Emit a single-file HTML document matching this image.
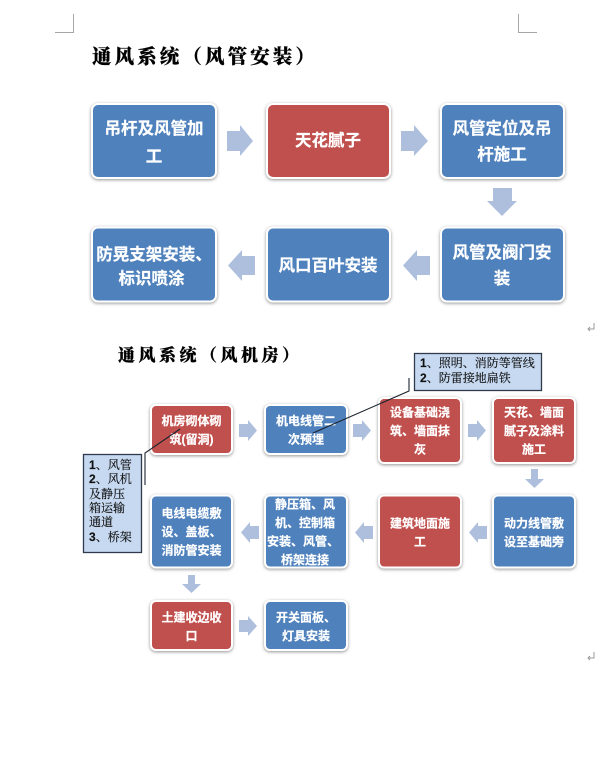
<!DOCTYPE html>
<html lang="zh">
<head>
<meta charset="utf-8">
<title>通风系统</title>
<style>
html,body{margin:0;padding:0;background:#fff;width:600px;height:764px;overflow:hidden}
svg{display:block}
.b{stroke:#fff;stroke-width:2;filter:drop-shadow(0 1px 1.5px rgba(60,60,60,.55))}
.bl{fill:#4f81bd}.rd{fill:#c0504d}
.a{fill:#adbfdc;filter:blur(.35px)}
.t{font-family:"Liberation Sans","Noto Sans CJK SC",sans-serif;font-weight:700;fill:#fff;stroke:#fff;stroke-width:.2px;text-anchor:middle;filter:blur(.35px)}
.l{font-size:16.5px}.s{font-size:12px}
.h{font-family:"Liberation Serif","Noto Serif CJK SC",serif;font-weight:900;fill:#000;stroke:#000;stroke-width:.25px}
.c{font-family:"Liberation Serif","Noto Serif CJK SC",serif;font-size:12px;fill:#111;stroke:#111;stroke-width:.15px;filter:blur(.2px)}
</style>
</head>
<body>
<svg width="600" height="764" viewBox="0 0 600 764" xmlns="http://www.w3.org/2000/svg">
<path d="M55 32.5H73.5V14M518.5 14V32.5H537" fill="none" stroke="#a6a6a6" stroke-width="1"/>
<text class="h" x="92" y="63" font-size="19.500" letter-spacing="3.100">通风系统（风管安装）</text>
<text class="h" x="118" y="361" font-size="17" letter-spacing="3.500">通风系统（风机房）</text>

<rect class="b bl" x="92" y="104" width="124" height="74" rx="6"/>
<rect class="b rd" x="267" y="104" width="123" height="74" rx="6"/>
<rect class="b bl" x="441" y="104" width="123" height="74" rx="6"/>
<rect class="b bl" x="92" y="227.500" width="124" height="74" rx="6"/>
<rect class="b bl" x="267" y="227.500" width="123" height="74" rx="6"/>
<rect class="b bl" x="441" y="227.500" width="123" height="74" rx="6"/>

<g class="a">
<path d="M227 131H240V125L253 141 240 156V151H227Z"/>
<path d="M401 131H414V125L428 141 414 156V151H401Z"/>
<path d="M493 188H512V201H517L502 216 487 201H493Z"/>
<path d="M255 256H242V250L228 265.500 242 281V275H255Z"/>
<path d="M430 256H417V250L403 265.500 417 281V275H430Z"/>
</g>

<g class="t l">
<text x="154" y="134">吊杆及风管加</text><text x="154" y="162">工</text>
<text x="328" y="146">天花腻子</text>
<text x="502" y="134">风管定位及吊</text><text x="502" y="160">杆施工</text>
<text x="154" y="260">防晃支架安装、</text><text x="151.500" y="284">标识喷涂</text>
<text x="328" y="271">风口百叶安装</text>
<text x="502" y="258">风管及阀门安</text><text x="502" y="284">装</text>
</g>

<rect class="b rd" x="151" y="405" width="81" height="49" rx="5"/>
<rect class="b bl" x="265" y="405" width="82" height="49" rx="5"/>
<rect class="b rd" x="379" y="398" width="82" height="65" rx="5"/>
<rect class="b rd" x="493" y="398" width="82" height="65" rx="5"/>
<rect class="b bl" x="151" y="495.500" width="81" height="72" rx="5"/>
<rect class="b bl" x="265" y="495.500" width="82" height="72" rx="5"/>
<rect class="b rd" x="379" y="495.500" width="82" height="72" rx="5"/>
<rect class="b bl" x="493" y="495.500" width="82" height="72" rx="5"/>
<rect class="b rd" x="151" y="601" width="81" height="49" rx="5"/>
<rect class="b bl" x="265" y="601" width="82" height="49" rx="5"/>

<g class="a">
<path d="M239 424H248V420L257 430.500 248 441V437H239Z"/>
<path d="M353 424H362V420L371 430.500 362 441V437H353Z"/>
<path d="M468 424H477V420L486 430.500 477 441V437H468Z"/>
<path d="M531 469H538V479H544L534.500 488 525 479H531Z"/>
<path d="M487 526H478V522L469 532.500 478 543V539H487Z"/>
<path d="M373 526H364V522L355 532.500 364 543V539H373Z"/>
<path d="M259 526H250V522L241 532.500 250 543V539H259Z"/>
<path d="M188 575H195V584H201L191.500 593 182 584H188Z"/>
<path d="M239 620H248V616L257 626 248 636V632H239Z"/>
</g>

<g class="t s">
<text x="191.500" y="425">机房砌体砌</text><text x="191.500" y="443.500">筑(留洞)</text>
<text x="306" y="425">机电线管二</text><text x="306" y="443.500">次预埋</text>
<text x="420" y="416.500">设备基础浇</text><text x="420" y="435">筑、墙面抹</text><text x="420" y="453.500">灰</text>
<text x="534" y="416.500">天花、墙面</text><text x="534" y="435">腻子及涂料</text><text x="534" y="453.500">施工</text>
<text x="191.500" y="517.500">电线电缆敷</text><text x="191.500" y="536">设、盖板、</text><text x="191.500" y="554.500">消防管安装</text>
<text x="305" y="508.500">静压箱、风</text><text x="305" y="527">机、控制箱</text><text x="303" y="545.500">安装、风管、</text><text x="305" y="564">桥架连接</text>
<text x="420" y="527.500">建筑地面施</text><text x="420" y="546">工</text>
<text x="534" y="527.500">动力线管敷</text><text x="534" y="546">设至基础旁</text>
<text x="191.500" y="621.500">土建收边收</text><text x="191.500" y="640">口</text>
<text x="306" y="621.500">开关面板、</text><text x="306" y="640">灯具安装</text>
</g>

<rect x="83.500" y="454.500" width="58" height="98" fill="#c6d9f1" stroke="#2f3b4c" stroke-width="1.300"/>
<rect x="414.500" y="353.500" width="127" height="37" fill="#c6d9f1" stroke="#2f3b4c" stroke-width="1.300"/>
<path d="M145 485V453L180 429" fill="none" stroke="#1c2430" stroke-width="1.100"/>
<path d="M409 378V391L313 433" fill="none" stroke="#1c2430" stroke-width="1.100"/>

<g class="c">
<text x="89" y="469"><tspan font-family="Liberation Sans" font-weight="700">1</tspan>、风管</text>
<text x="89" y="483"><tspan font-family="Liberation Sans" font-weight="700">2</tspan>、风机</text>
<text x="89" y="498">及静压</text>
<text x="89" y="512">箱运输</text>
<text x="89" y="526">通道</text>
<text x="89" y="541"><tspan font-family="Liberation Sans" font-weight="700">3</tspan>、桥架</text>
<text x="420" y="367"><tspan font-family="Liberation Sans" font-weight="700">1</tspan>、照明、消防等管线</text>
<text x="420" y="382"><tspan font-family="Liberation Sans" font-weight="700">2</tspan>、防雷接地扁铁</text>
</g>

<path d="M594 323V329H588M590 327L588 329 590 331" fill="none" stroke="#9a9a9a" stroke-width="1"/>
<path d="M594 652V658H588M590 656L588 658 590 660" fill="none" stroke="#9a9a9a" stroke-width="1"/>
</svg>
</body>
</html>
